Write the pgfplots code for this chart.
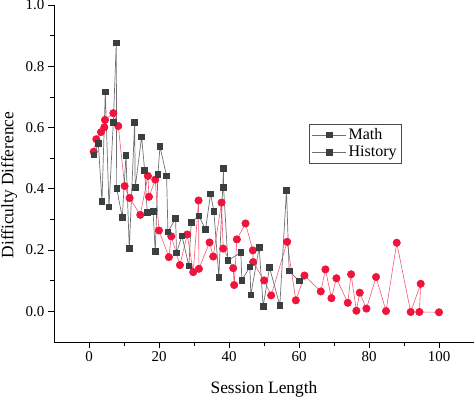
\documentclass[border=0pt]{standalone}
\usepackage{pgfplots}
\pgfplotsset{compat=1.18}
\usepackage{fontspec}
\setmainfont{Liberation Serif}
\usetikzlibrary{calc}
\definecolor{mgray}{HTML}{3A4042}
\definecolor{lgray}{HTML}{707070}
\definecolor{mred}{HTML}{F0143C}
\begin{document}
\begin{tikzpicture}
\begin{axis}[
 scale only axis, width=420pt, height=337pt,
 xmin=-10, xmax=110, ymin=-0.1, ymax=1.0,
 axis lines=left, axis line style={-, black, line width=0.8pt},
 xtick={0,20,40,60,80,100}, ytick={0,0.2,0.4,0.6,0.8,1.0},
 minor x tick num=1, minor y tick num=1,
 tick align=outside, major tick length=6pt, minor tick length=3.5pt,
 tick style={black, line width=0.8pt},
 /pgf/number format/assume math mode=true,
 yticklabel style={/pgf/number format/.cd, fixed, fixed zerofill, precision=1},
 tick label style={font=\fontsize{15}{16}\selectfont},
 xlabel={Session Length}, ylabel={Difficulty Difference},
 label style={font=\fontsize{17.4}{20}\selectfont},
 xlabel style={at={(rel axis cs:0.5,0)}, anchor=base, inner sep=0pt, yshift=-51pt},
 ylabel style={at={(rel axis cs:0,0.5)}, anchor=north, inner sep=0pt, xshift=-11.5pt, yshift=53pt},
 legend style={at={(axis cs:62.9,0.612)}, anchor=north west, draw=black!70, line width=0.6pt,
   font=\fontsize{16}{19}\selectfont, inner sep=2.5pt, row sep=1pt, cells={anchor=west}},
 legend image code/.code={\draw[mark repeat=2,mark phase=2] plot coordinates {(0pt,0pt) (17pt,0pt) (34pt,0pt)};},
]
\coordinate (sw) at (rel axis cs:0,0);
\coordinate (ne) at (rel axis cs:1,1);
\addplot[forget plot, color=mred!70, line width=0.6pt, mark=*, mark size=3.7pt, mark options={fill=mred, draw=mred}] coordinates {
(1.33,0.521) (2.09,0.562) (3.43,0.585) (4.38,0.601) (4.57,0.625) (6.95,0.647) (8.37,0.605)
(10.18,0.409) (11.61,0.370) (14.65,0.315) (16.84,0.442) (17.13,0.374) (18.93,0.430) (19.98,0.264)
(22.83,0.177) (23.5,0.245) (25.98,0.151) (28.07,0.251) (29.78,0.128) (31.3,0.362) (31.4,0.139)
(34.44,0.225) (35.49,0.179) (37.87,0.355) (38.34,0.205) (41.2,0.141) (41.48,0.086) (42.25,0.235)
(44.72,0.287) (46.81,0.199) (46.9,0.161) (50.05,0.101) (52.05,0.052) (56.61,0.227) (59.09,0.036)
(61.56,0.117) (66.22,0.065) (67.55,0.137) (69.27,0.043) (70.69,0.108) (73.93,0.028) (74.88,0.121)
(76.4,0.002) (77.35,0.061) (79.26,0.009) (82.02,0.112) (84.87,0.001) (87.92,0.224) (91.91,-0.002)
(94.77,0.090) (94.39,-0.002) (100.0,-0.003)
};
\addplot[color=lgray, line width=0.7pt, mark=square*, mark size=2.8pt, mark options={fill=mgray, draw=mgray}] coordinates {
(1.33,0.511) (2.66,0.548) (3.71,0.359) (4.66,0.717) (5.71,0.341) (6.95,0.617) (7.80,0.877)
(7.9,0.401) (9.51,0.307) (10.56,0.510) (11.51,0.205) (13.04,0.616) (13.2,0.404) (15.03,0.570)
(15.89,0.461) (16.65,0.324) (18.3,0.327) (18.93,0.196) (19.7,0.448) (20.27,0.538) (22.17,0.442)
(22.55,0.260) (24.74,0.303) (25.0,0.191) (26.55,0.247) (28.54,0.148) (29.2,0.290) (31.4,0.312)
(33.3,0.267) (34.73,0.384) (35.68,0.327) (37.1,0.112) (38.44,0.466) (38.44,0.405) (39.68,0.166)
(43.39,0.192) (43.67,0.102) (45.96,0.145) (46.24,0.054) (48.62,0.209) (49.76,0.016) (51.57,0.143)
(54.52,0.020) (56.42,0.395) (57.18,0.132) (60.04,0.099)
};
\addlegendentry{Math}
\addlegendimage{color=lgray, line width=0.7pt, mark=square*, mark size=2.8pt, mark options={fill=mgray, draw=mgray}}
\addlegendentry{History}
\end{axis}
\pgfresetboundingbox
\path[use as bounding box] ($(sw)+(-54pt,-55pt)$) rectangle ($(ne)+(0pt,5pt)$);
\end{tikzpicture}
\end{document}
